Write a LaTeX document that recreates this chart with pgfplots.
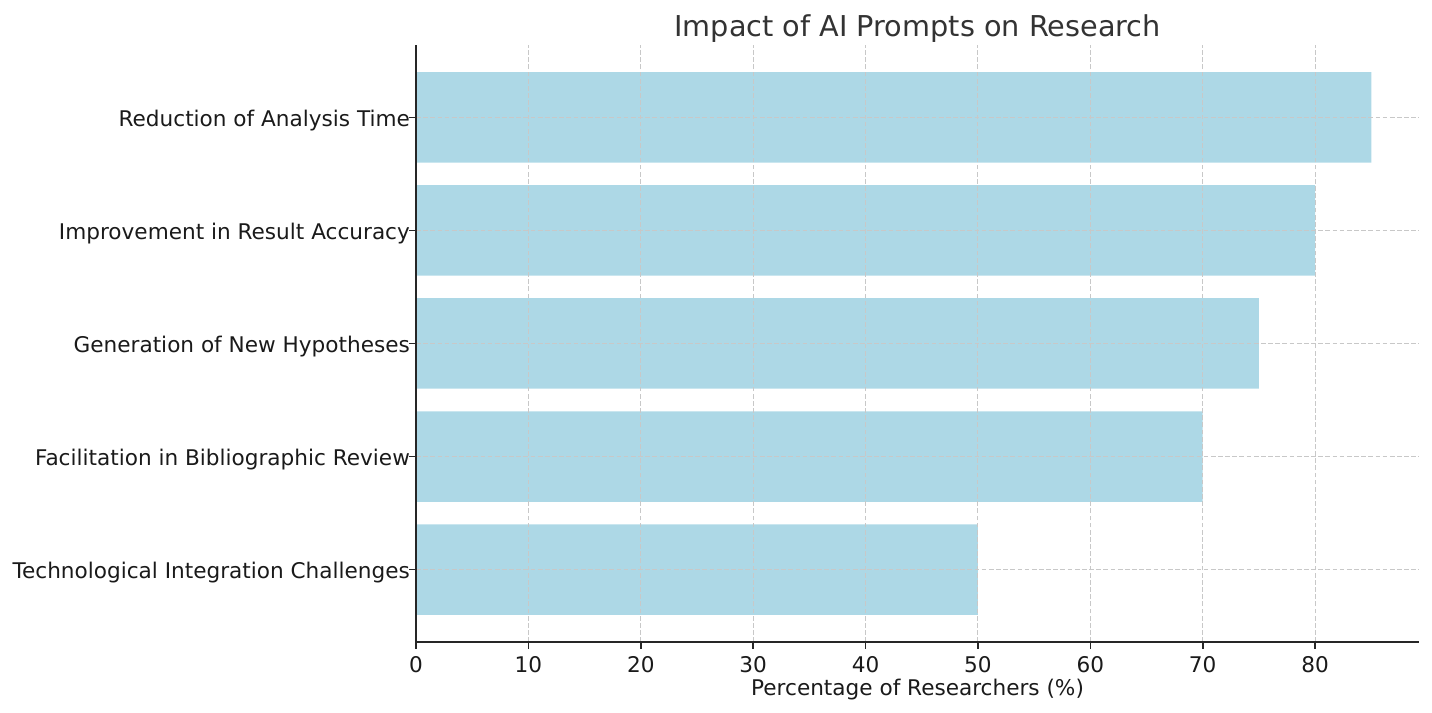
\documentclass[border=0pt]{standalone}
\usepackage{pgfplots}
\pgfplotsset{compat=1.18}
\usepackage{fontspec}
\setmainfont{DejaVu Sans}
\definecolor{barblue}{HTML}{ADD8E6}
\definecolor{gridc}{HTML}{C8C8C8}
\definecolor{axc}{HTML}{262626}
\definecolor{txt}{HTML}{1A1A1A}
\definecolor{ttl}{HTML}{333333}
\begin{document}
\begin{tikzpicture}
\useasboundingbox (-209.2bp,-35.2bp) rectangle (510.8bp,322.8bp);
\begin{axis}[
  at={(0,0)}, anchor=south west,
  scale only axis,
  width=504.3bp, height=300.2bp,
  xbar, bar width=0.8, bar shift=0pt,
  y=300.2bp/5.28,
  xmin=0, xmax=89.25,
  ymin=-0.64, ymax=4.64,
  ytick={0,1,2,3,4},
  yticklabels={Technological Integration Challenges,Facilitation in Bibliographic Review,Generation of New Hypotheses,Improvement in Result Accuracy,Reduction of Analysis Time},
  xtick={0,10,...,80},
  axis x line*=bottom, axis y line*=left,
  axis line style={axc, line width=0.8pt},
  every tick/.style={axc, line width=0.8pt},
  tick align=outside, major tick length=3.5bp,
  tick label style={font=\fontsize{10.9}{13}\selectfont, text=txt},
  /pgf/number format/assume math mode=true,
  xmajorgrids, ymajorgrids,
  major grid style={gridc, line width=0.5pt, dash pattern=on 2.4bp off 1.2bp},
  axis on top,
  title={Impact of AI Prompts on Research},
  title style={font=\fontsize{14.5}{17}\selectfont, text=ttl, yshift=-8.5bp},
  xlabel={Percentage of Researchers (\%)},
  xlabel style={font=\fontsize{10.9}{13}\selectfont, text=txt, yshift=3.5bp},
  yticklabel style={xshift=3.9bp, yshift=-1.5bp},
]
\addplot[fill=barblue, draw=none] coordinates {(50,0) (70,1) (75,2) (80,3) (85,4)};
\end{axis}
\end{tikzpicture}
\end{document}
